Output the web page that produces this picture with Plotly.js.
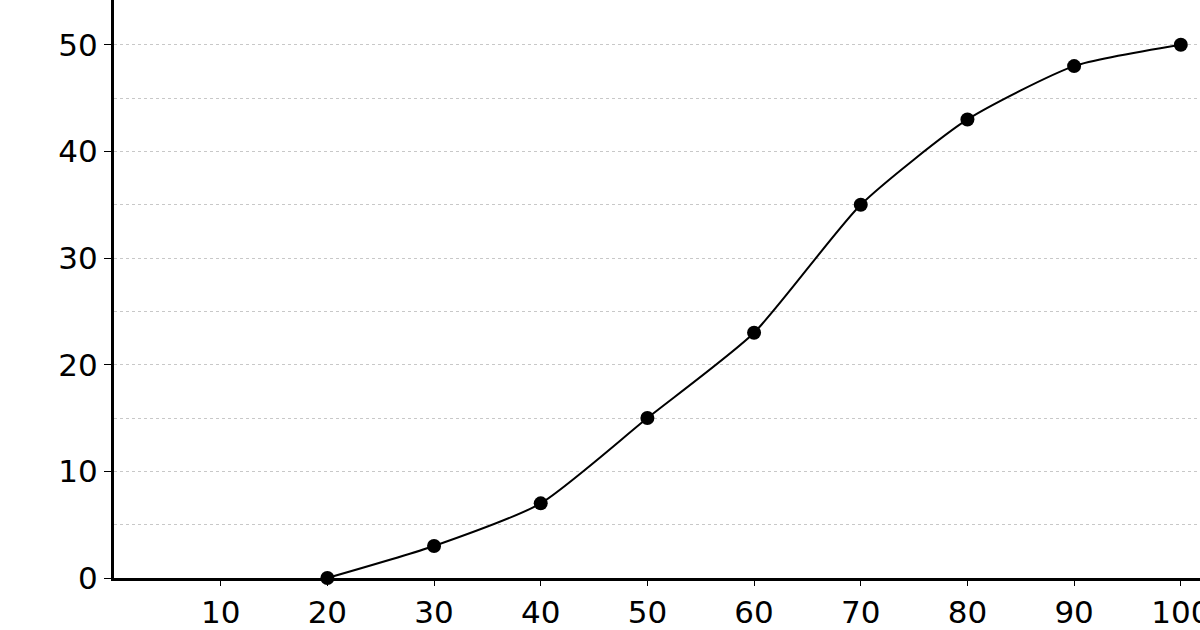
<!DOCTYPE html>
<html><head><meta charset="utf-8">
<script src="https://cdn.plot.ly/plotly-3.0.1.min.js"></script>
<style>html,body{margin:0;padding:0;background:#fff;}#chart{width:1200px;height:630px;}</style>
</head><body><div id="chart"></div>
<script>
const xValues = [20, 30, 40, 50, 60, 70, 80, 90, 100];
const yValues = [0, 3, 7, 15, 23, 35, 43, 48, 50];
const xTicks = [10, 20, 30, 40, 50, 60, 70, 80, 90, 100];
const yTicks = [0, 10, 20, 30, 40, 50];

const trace = {
  x: xValues, y: yValues, type: 'scatter', mode: 'lines+markers',
  line: {color: '#000', width: 2, shape: 'spline', smoothing: 0.6},
  marker: {color: '#000', size: 14, symbol: 'circle'},
  cliponaxis: false, hoverinfo: 'skip'
};
const font = {family: 'DejaVu Sans, sans-serif', size: 31, color: '#000'};
const layout = {
  width: 1200, height: 630,
  margin: {l: 114, r: 0, t: 0, b: 52, pad: 0},
  paper_bgcolor: '#fff', plot_bgcolor: '#fff',
  showlegend: false,
  font: font,
  xaxis: {
    range: [0, 101.8], tickvals: xTicks, ticktext: xTicks.map(String),
    showgrid: false, zeroline: false,
    showline: true, linecolor: '#000', linewidth: 3,
    ticks: 'outside', ticklen: 5, tickcolor: '#000', tickwidth: 1,
    tickfont: font, ticklabeloverflow: 'allow', fixedrange: true
  },
  yaxis: {
    range: [0, 54.2], tickvals: yTicks, ticktext: yTicks.map(String),
    showgrid: true, gridcolor: '#c8c8c8', griddash: 'dot', gridwidth: 1,
    minor: {dtick: 5, tick0: 0, showgrid: true, gridcolor: '#c8c8c8', griddash: 'dot', gridwidth: 1, ticks: ''},
    zeroline: false,
    showline: true, linecolor: '#000', linewidth: 3,
    ticks: 'outside', ticklen: 7, tickcolor: '#000', tickwidth: 1,
    tickfont: font, ticklabeloverflow: 'allow', fixedrange: true
  }
};
Plotly.newPlot('chart', [trace], layout, {staticPlot: true, displayModeBar: false});
</script>
</body></html>
